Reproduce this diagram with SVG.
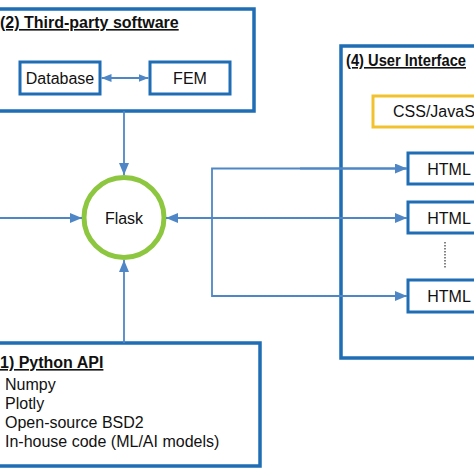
<svg xmlns="http://www.w3.org/2000/svg" width="474" height="474" viewBox="0 0 474 474">
<style>
.box{fill:#fff;stroke:#1F6DB4;stroke-width:3.5}
.inner{fill:#fff;stroke:#1F6DB4;stroke-width:3}
.yel{fill:#fff;stroke:#F2C12E;stroke-width:3}
.conn{fill:none;stroke:#4F86C6;stroke-width:1.8}
.t{font-family:"Liberation Sans",Arial,sans-serif;font-size:16px;fill:#111}
.title{font-family:"Liberation Sans",Arial,sans-serif;font-size:16px;font-weight:bold;text-decoration:underline;fill:#111}
.c{text-anchor:middle}
</style>
<defs>
<marker id="ah" viewBox="0 0 12 10" refX="12" refY="5" markerWidth="12" markerHeight="10" markerUnits="userSpaceOnUse" orient="auto-start-reverse">
<path d="M0,0 L12,5 L0,10 z" fill="#4F86C6"/>
</marker>
<marker id="ahs" viewBox="0 0 10 8" refX="10" refY="4" markerWidth="10" markerHeight="8" markerUnits="userSpaceOnUse" orient="auto-start-reverse">
<path d="M0,0 L10,4 L0,8 z" fill="#4F86C6"/>
</marker>
</defs>

<g id="third-party">
<rect class="box" x="-10" y="9" width="264" height="102"/>
<text class="title" x="0" y="28">(2) Third-party software</text>
</g>
<g id="database">
<rect class="inner" x="20" y="62" width="80" height="32"/>
<text class="t c" x="60" y="84">Database</text>
</g>
<g id="fem">
<rect class="inner" x="150" y="62" width="80" height="32"/>
<text class="t c" x="190" y="84">FEM</text>
</g>

<g id="user-interface">
<rect class="box" x="341" y="46" width="150" height="312"/>
<text class="title" x="346" y="66" textLength="120" lengthAdjust="spacingAndGlyphs">(4) User Interface</text>
</g>
<g id="css-js">
<rect class="yel" x="373" y="96" width="120" height="31"/>
<text class="t" x="393" y="117">CSS/JavaS</text>
</g>
<g id="html1">
<rect class="inner" x="408" y="153" width="90" height="31"/>
<text class="t c" x="449" y="174.5">HTML</text>
</g>
<g id="html2">
<rect class="inner" x="408" y="202" width="90" height="31"/>
<text class="t c" x="449" y="223.5">HTML</text>
</g>
<g id="html3">
<rect class="inner" x="408" y="280" width="90" height="32"/>
<text class="t c" x="449" y="302">HTML</text>
</g>

<g id="python-api">
<rect class="box" x="-10" y="343" width="270" height="123"/>
<text class="title" x="0" y="368">1) Python API</text>
<text class="t" x="5" y="390">Numpy</text>
<text class="t" x="5" y="409">Plotly</text>
<text class="t" x="5" y="428">Open-source BSD2</text>
<text class="t" x="5" y="447">In-house code (ML/AI models)</text>
</g>

<g id="flask">
<circle cx="124" cy="217.5" r="40" fill="#fff" stroke="#8DC63F" stroke-width="5"/>
<text class="t c" x="124" y="223.5">Flask</text>
</g>

<g id="connectors">
<line class="conn" x1="101.5" y1="78" x2="148.5" y2="78" marker-start="url(#ahs)" marker-end="url(#ahs)"/>
<line class="conn" x1="124" y1="111" x2="124" y2="175" marker-end="url(#ah)"/>
<line class="conn" x1="0" y1="218" x2="82" y2="218" marker-end="url(#ah)"/>
<line class="conn" x1="124" y1="343" x2="124" y2="260" marker-end="url(#ah)"/>
<line class="conn" x1="166" y1="218" x2="407" y2="218" marker-start="url(#ah)" marker-end="url(#ah)"/>
<path class="conn" d="M407,168.5 H212 V296 H407"/>
<line class="conn" x1="300" y1="168.5" x2="407" y2="168.5" marker-end="url(#ah)"/>
<line class="conn" x1="300" y1="296" x2="407" y2="296" marker-end="url(#ah)"/>
<line x1="445" y1="242" x2="445" y2="268" stroke="#333" stroke-width="1.2" stroke-dasharray="1.5,1.5"/>
</g>
</svg>
